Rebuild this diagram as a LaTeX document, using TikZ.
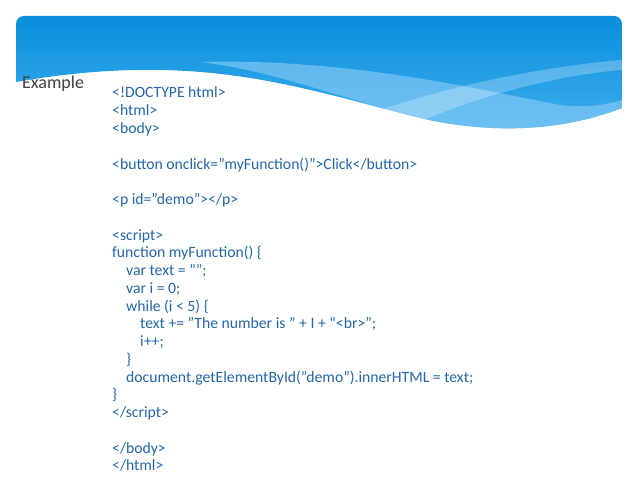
\documentclass[tikz,border=0pt]{standalone}
\usepackage{fontspec}
\setmainfont{Carlito}[Ligatures=ResetAll]
\newcommand\qq{\char34\relax}
\begin{document}
\begin{tikzpicture}[x=1pt,y=-1pt,
  code/.style={anchor=base west,inner sep=0pt,text=codeblue,font=\fontsize{15.7}{17}\selectfont}]
\definecolor{codeblue}{HTML}{2466A8}
\definecolor{topblue}{HTML}{0A8FDC}
\definecolor{midblue}{HTML}{3FAEEE}
\definecolor{lightblue}{HTML}{8DCDF5}
\useasboundingbox (0,0) rectangle (638,478);
\fill[white] (0,0) rectangle (638,478);
\begin{scope}
\clip[rounded corners=8] (16,16) rectangle (622,140);
\shade[top color=topblue,bottom color=midblue] (16,16) -- (622,16) -- (622,108)
  .. controls (560,132) and (490,134) .. (420,118)
  .. controls (300,88) and (200,50) .. (16,82) -- cycle;
\fill[lightblue,opacity=0.6] (200,62) .. controls (350,58) and (480,90) .. (560,105)
  .. controls (590,108) and (610,104) .. (622,100) -- (622,108)
  .. controls (560,132) and (490,134) .. (420,118) .. controls (330,95) and (270,70) .. (200,62) -- cycle;
\fill[white,opacity=0.25] (380,110) .. controls (470,80) and (560,65) .. (622,60) -- (622,70)
  .. controls (560,75) and (480,95) .. (420,122) -- cycle;
\end{scope}
\node[anchor=base west,inner sep=0pt,text=black!75,font=\fontsize{18}{21}\selectfont] (ex) at (22,89) {Example};
\foreach \t [count=\i from 0] in {
 {<!DOCTYPE html>},{<html>},{<body>},{},
 {<button onclick=\qq myFunction()\qq>Click</button>},{},
 {<p id=\qq demo\qq></p>},{},{<script>},{function myFunction() \{},
 {\hspace*{14pt}var text = \qq\qq;},{\hspace*{14pt}var i = 0;},{\hspace*{14pt}while (i < 5) \{},
 {\hspace*{28pt}text += \qq The number is \qq{} + I + “<br>”;},{\hspace*{28pt}i++;},
 {\hspace*{14pt}\}},{\hspace*{14pt}document.getElementById(\qq demo\qq).innerHTML = text;},
 {\}},{</script>},{},{</body>},{</html>}}
 \node[code] (l\i) at (112,98+17.76*\i) {\t};
\end{tikzpicture}
\end{document}
